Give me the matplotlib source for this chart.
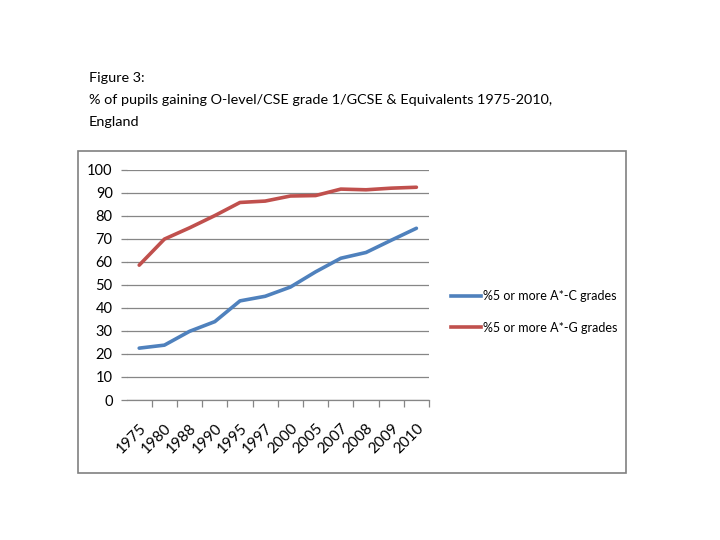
import matplotlib
matplotlib.use("Agg")
import matplotlib.pyplot as plt
from matplotlib.patches import Rectangle
from matplotlib.lines import Line2D

years = ["1975", "1980", "1988", "1990", "1995", "1997", "2000", "2005", "2007", "2008", "2009", "2010"]
a_star_c = [22.5, 23.8, 29.8, 34.0, 43.0, 45.0, 49.0, 55.6, 61.5, 64.0, 69.3, 74.5]
a_star_g = [58.5, 69.8, 74.7, 80.0, 85.7, 86.3, 88.5, 88.7, 91.5, 91.2, 91.9, 92.3]
series_names = ["%5 or more A*-C grades", "%5 or more A*-G grades"]
yticks = list(range(0, 101, 10))

W, H = 720, 540
fig = plt.figure(figsize=(7.2, 5.4), dpi=100)

def fx(px):
    return px / W

def fy(py):
    return 1 - py / H

narrow = ['Lato', 'DejaVu Sans']
title_font = ['Lato', 'DejaVu Sans']

# Title text
fig.text(fx(89), fy(78), "Figure 3:", fontsize=10.4, family=title_font, va='center', ha='left')
fig.text(fx(89), fy(100), "% of pupils gaining O-level/CSE grade 1/GCSE & Equivalents 1975-2010,",
         fontsize=10.4, family=title_font, va='center', ha='left')
fig.text(fx(89), fy(122), "England", fontsize=10.4, family=title_font, va='center', ha='left')

# Chart border box
fig.patches.append(Rectangle((fx(78), fy(473)), fx(626) - fx(78), fy(151) - fy(473),
                             transform=fig.transFigure, fill=False, edgecolor='#808080',
                             linewidth=1.2))

# Axes
left, right, top, bottom = 126.6, 429, 169.5, 400
ax = fig.add_axes([fx(left), fy(bottom), fx(right) - fx(left), fy(top) - fy(bottom)])
x = list(range(len(years)))
ax.plot(x, a_star_c, color='#4F81BD', linewidth=2.6, solid_capstyle='round')
ax.plot(x, a_star_g, color='#C0504D', linewidth=2.6, solid_capstyle='round')
ax.set_xlim(-0.5, len(years) - 0.5)
ax.set_ylim(0, 100)
ax.set_yticks(yticks)
ax.set_yticklabels([str(v) for v in yticks], family=narrow, fontsize=10.5)
ax.yaxis.grid(True, color='#868686', linewidth=0.9)
ax.set_axisbelow(True)
for s in ['top', 'right', 'left']:
    ax.spines[s].set_visible(False)
ax.spines['bottom'].set_color('#868686')
ax.spines['bottom'].set_linewidth(0.9)
ax.tick_params(axis='y', length=4, color='#868686', width=0.9, pad=6)
ax.set_xticks([i + 0.5 for i in x], minor=False)
ax.set_xticklabels([])
ax.tick_params(axis='x', which='major', length=5, color='#868686', width=0.9, direction='out')
ax.set_xticks(x, minor=True)
ax.set_xticklabels(years, minor=True, rotation=45, ha='right', va='top',
                   rotation_mode='anchor', family=narrow, fontsize=11)
ax.tick_params(axis='x', which='minor', length=0, pad=15)

# Legend
handles = [Line2D([], [], color='#4F81BD', linewidth=2.6),
           Line2D([], [], color='#C0504D', linewidth=2.6)]
fig.legend(handles, series_names, loc='center left', bbox_to_anchor=(fx(446), fy(312)),
           frameon=False, prop={'family': narrow, 'size': 9}, handlelength=2.4,
           handletextpad=0.15, labelspacing=1.55, borderaxespad=0)

fig.savefig("out.png", dpi=100, facecolor='white')
